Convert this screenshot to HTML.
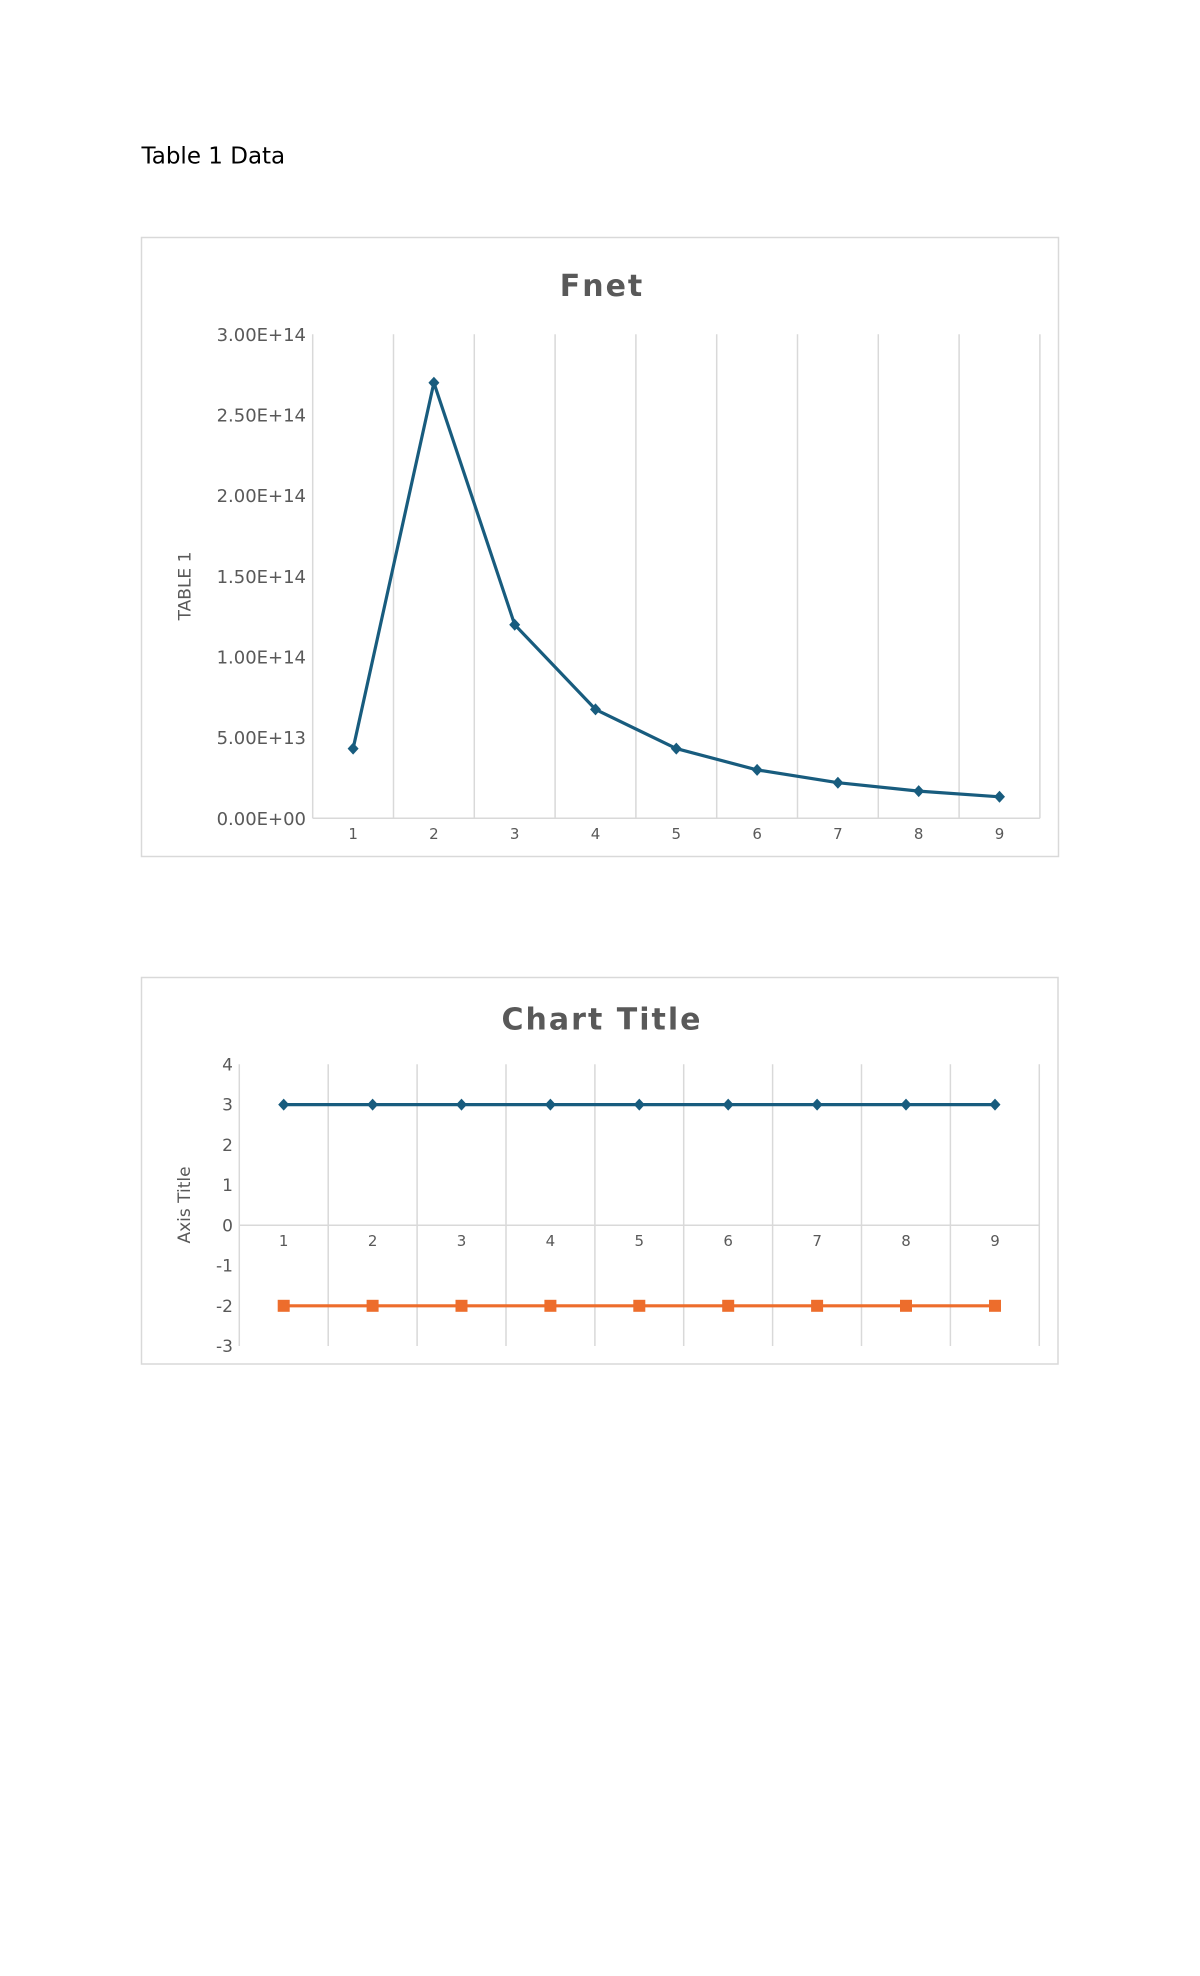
<!DOCTYPE html>
<html>
<head>
<meta charset="utf-8">
<style>
  html, body { margin: 0; padding: 0; background: #ffffff; }
  svg { display: block; }
  text { font-family: "DejaVu Sans", "Liberation Sans", sans-serif; }
</style>
</head>
<body>
<svg width="1200" height="1976" viewBox="0 0 1200 1976" xmlns="http://www.w3.org/2000/svg">
  <rect x="0" y="0" width="1200" height="1976" fill="#ffffff"/>

  <!-- Heading -->
  <text x="141.5" y="163.3" font-size="23" fill="#000000">Table 1 Data</text>

  <!-- ================= Chart 1 ================= -->
  <rect x="141.5" y="237.5" width="917" height="619" fill="#ffffff" stroke="#d9d9d9" stroke-width="1.5"/>
  <text x="602" y="296" font-size="30" font-weight="bold" fill="#595959" text-anchor="middle" letter-spacing="2">Fnet</text>

  <!-- gridlines -->
  <g stroke="#d9d9d9" stroke-width="1.5">
    <line x1="312.7" y1="334.3" x2="312.7" y2="818.3"/>
    <line x1="393.5" y1="334.3" x2="393.5" y2="818.3"/>
    <line x1="474.3" y1="334.3" x2="474.3" y2="818.3"/>
    <line x1="555.1" y1="334.3" x2="555.1" y2="818.3"/>
    <line x1="635.9" y1="334.3" x2="635.9" y2="818.3"/>
    <line x1="716.7" y1="334.3" x2="716.7" y2="818.3"/>
    <line x1="797.5" y1="334.3" x2="797.5" y2="818.3"/>
    <line x1="878.3" y1="334.3" x2="878.3" y2="818.3"/>
    <line x1="959.1" y1="334.3" x2="959.1" y2="818.3"/>
    <line x1="1039.9" y1="334.3" x2="1039.9" y2="818.3"/>
    <line x1="312.7" y1="818.3" x2="1039.9" y2="818.3"/>
  </g>

  <!-- y labels -->
  <g font-size="18" fill="#595959" text-anchor="end">
    <text x="306" y="340.8">3.00E+14</text>
    <text x="306" y="421.5">2.50E+14</text>
    <text x="306" y="502.1">2.00E+14</text>
    <text x="306" y="582.8">1.50E+14</text>
    <text x="306" y="663.5">1.00E+14</text>
    <text x="306" y="744.1">5.00E+13</text>
    <text x="306" y="824.8">0.00E+00</text>
  </g>

  <!-- x labels -->
  <g font-size="15" fill="#595959" text-anchor="middle">
    <text x="353.1" y="839">1</text>
    <text x="433.9" y="839">2</text>
    <text x="514.7" y="839">3</text>
    <text x="595.5" y="839">4</text>
    <text x="676.3" y="839">5</text>
    <text x="757.1" y="839">6</text>
    <text x="837.9" y="839">7</text>
    <text x="918.7" y="839">8</text>
    <text x="999.5" y="839">9</text>
  </g>

  <text transform="translate(190.5,586) rotate(-90)" font-size="17" fill="#595959" text-anchor="middle">TABLE 1</text>

  <!-- series -->
  <polyline fill="none" stroke="#185c7e" stroke-width="3.2" stroke-linejoin="round"
    points="353.1,748.6 433.9,382.7 514.7,624.7 595.5,709.4 676.3,748.6 757.1,769.9 837.9,782.7 918.7,791.1 999.5,796.8"/>
  <g fill="#185c7e">
    <polygon points="353.1,742.6 358.6,748.6 353.1,754.6 347.6,748.6"/>
    <polygon points="433.9,376.7 439.4,382.7 433.9,388.7 428.4,382.7"/>
    <polygon points="514.7,618.7 520.2,624.7 514.7,630.7 509.2,624.7"/>
    <polygon points="595.5,703.4 601,709.4 595.5,715.4 590,709.4"/>
    <polygon points="676.3,742.6 681.8,748.6 676.3,754.6 670.8,748.6"/>
    <polygon points="757.1,763.9 762.6,769.9 757.1,775.9 751.6,769.9"/>
    <polygon points="837.9,776.7 843.4,782.7 837.9,788.7 832.4,782.7"/>
    <polygon points="918.7,785.1 924.2,791.1 918.7,797.1 913.2,791.1"/>
    <polygon points="999.5,790.8 1005,796.8 999.5,802.8 994,796.8"/>
  </g>

  <!-- ================= Chart 2 ================= -->
  <rect x="141.5" y="977.5" width="916.5" height="386.5" fill="#ffffff" stroke="#d9d9d9" stroke-width="1.5"/>
  <text x="602" y="1029.5" font-size="30" font-weight="bold" fill="#595959" text-anchor="middle" letter-spacing="2">Chart Title</text>

  <g stroke="#d9d9d9" stroke-width="1.5">
    <line x1="239.3" y1="1064.3" x2="239.3" y2="1346"/>
    <line x1="328.2" y1="1064.3" x2="328.2" y2="1346"/>
    <line x1="417.1" y1="1064.3" x2="417.1" y2="1346"/>
    <line x1="506" y1="1064.3" x2="506" y2="1346"/>
    <line x1="594.9" y1="1064.3" x2="594.9" y2="1346"/>
    <line x1="683.7" y1="1064.3" x2="683.7" y2="1346"/>
    <line x1="772.6" y1="1064.3" x2="772.6" y2="1346"/>
    <line x1="861.5" y1="1064.3" x2="861.5" y2="1346"/>
    <line x1="950.4" y1="1064.3" x2="950.4" y2="1346"/>
    <line x1="1039.3" y1="1064.3" x2="1039.3" y2="1346"/>
    <line x1="239.3" y1="1225.3" x2="1039.3" y2="1225.3"/>
  </g>

  <g font-size="17" fill="#595959" text-anchor="end">
    <text x="233" y="1070.3">4</text>
    <text x="233" y="1110.6">3</text>
    <text x="233" y="1150.8">2</text>
    <text x="233" y="1191.1">1</text>
    <text x="233" y="1231.3">0</text>
    <text x="233" y="1271.5">-1</text>
    <text x="233" y="1311.8">-2</text>
    <text x="233" y="1352">-3</text>
  </g>

  <g font-size="15" fill="#595959" text-anchor="middle">
    <text x="283.7" y="1246">1</text>
    <text x="372.6" y="1246">2</text>
    <text x="461.5" y="1246">3</text>
    <text x="550.4" y="1246">4</text>
    <text x="639.3" y="1246">5</text>
    <text x="728.2" y="1246">6</text>
    <text x="817.1" y="1246">7</text>
    <text x="906" y="1246">8</text>
    <text x="995" y="1246">9</text>
  </g>

  <text transform="translate(190,1205) rotate(-90)" font-size="17" fill="#595959" text-anchor="middle">Axis Title</text>

  <!-- blue series at 3 -->
  <line x1="283.7" y1="1104.6" x2="995" y2="1104.6" stroke="#185c7e" stroke-width="3.2"/>
  <g fill="#185c7e">
    <polygon points="283.7,1098.6 289.2,1104.6 283.7,1110.6 278.2,1104.6"/>
    <polygon points="372.6,1098.6 378.1,1104.6 372.6,1110.6 367.1,1104.6"/>
    <polygon points="461.5,1098.6 467,1104.6 461.5,1110.6 456,1104.6"/>
    <polygon points="550.4,1098.6 555.9,1104.6 550.4,1110.6 544.9,1104.6"/>
    <polygon points="639.3,1098.6 644.8,1104.6 639.3,1110.6 633.8,1104.6"/>
    <polygon points="728.2,1098.6 733.7,1104.6 728.2,1110.6 722.7,1104.6"/>
    <polygon points="817.1,1098.6 822.6,1104.6 817.1,1110.6 811.6,1104.6"/>
    <polygon points="906,1098.6 911.5,1104.6 906,1110.6 900.5,1104.6"/>
    <polygon points="995,1098.6 1000.5,1104.6 995,1110.6 989.5,1104.6"/>
  </g>

  <!-- orange series at -2 -->
  <line x1="283.7" y1="1305.8" x2="995" y2="1305.8" stroke="#ed6d2c" stroke-width="3.2"/>
  <g fill="#ed6d2c">
    <rect x="277.7" y="1299.8" width="12" height="12"/>
    <rect x="366.6" y="1299.8" width="12" height="12"/>
    <rect x="455.5" y="1299.8" width="12" height="12"/>
    <rect x="544.4" y="1299.8" width="12" height="12"/>
    <rect x="633.3" y="1299.8" width="12" height="12"/>
    <rect x="722.2" y="1299.8" width="12" height="12"/>
    <rect x="811.1" y="1299.8" width="12" height="12"/>
    <rect x="900" y="1299.8" width="12" height="12"/>
    <rect x="989" y="1299.8" width="12" height="12"/>
  </g>
</svg>
</body>
</html>
